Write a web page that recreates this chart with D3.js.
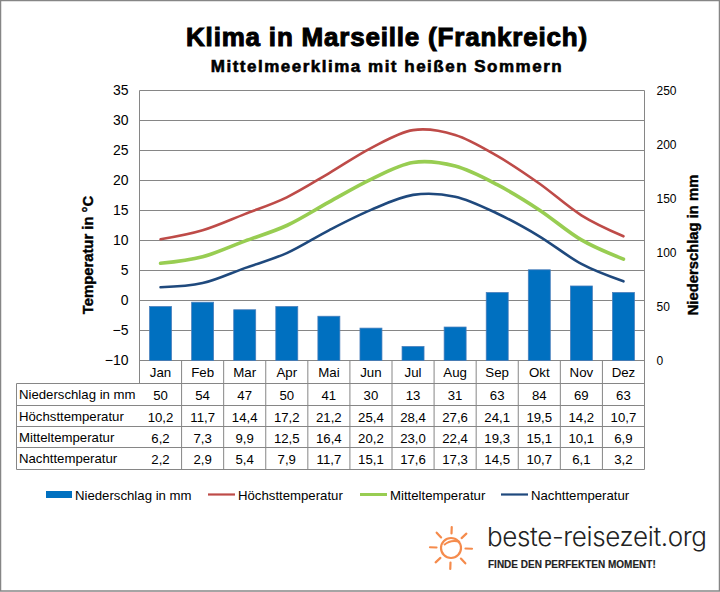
<!DOCTYPE html>
<html>
<head>
<meta charset="utf-8">
<script src="https://cdn.jsdelivr.net/npm/d3@7"></script>
<style>
  html, body { margin: 0; padding: 0; background: #fff; }
  svg { display: block; font-family: "Liberation Sans", Arial, sans-serif; }
</style>
</head>
<body>
<svg id="chart" width="720" height="592"></svg>
<script>
const months = ['Jan', 'Feb', 'Mar', 'Apr', 'Mai', 'Jun', 'Jul', 'Aug', 'Sep', 'Okt', 'Nov', 'Dez'];
const rain = [50, 54, 47, 50, 41, 30, 13, 31, 63, 84, 69, 63];
const high = [10.2, 11.7, 14.4, 17.2, 21.2, 25.4, 28.4, 27.6, 24.1, 19.5, 14.2, 10.7];
const mean = [6.2, 7.3, 9.9, 12.5, 16.4, 20.2, 23.0, 22.4, 19.3, 15.1, 10.1, 6.9];
const low = [2.2, 2.9, 5.4, 7.9, 11.7, 15.1, 17.6, 17.3, 14.5, 10.7, 6.1, 3.2];
const tempTicks = [-10, -5, 0, 5, 10, 15, 20, 25, 30, 35];
const rainTicks = [0, 50, 100, 150, 200, 250];

const GREY = '#868686';
const svg = d3.select('#chart');

const x = d3.scaleBand().domain(months).range([139.5, 644.5]);
const yTemp = d3.scaleLinear().domain([-10, 35]).range([360.5, 90.5]);
const yRain = d3.scaleLinear().domain([0, 250]).range([360.5, 90.5]);

// outer frame
svg.append('rect')
  .attr('x', 0.5).attr('y', 0.5).attr('width', 719).attr('height', 590.5)
  .attr('fill', '#fff').attr('stroke', GREY).attr('stroke-width', 1.5);

// titles
svg.append('text')
  .attr('x', 387).attr('y', 45.5).attr('text-anchor', 'middle')
  .attr('font-size', 26).attr('font-weight', 'bold')
  .attr('stroke', '#000').attr('stroke-width', 1)
  .attr('letter-spacing', 0.8)
  .text('Klima in Marseille (Frankreich)');
svg.append('text')
  .attr('x', 387).attr('y', 72).attr('text-anchor', 'middle')
  .attr('font-size', 17).attr('font-weight', 'bold')
  .attr('stroke', '#000').attr('stroke-width', 0.6)
  .attr('letter-spacing', 1.5)
  .text('Mittelmeerklima mit heißen Sommern');

// plot border and gridlines
svg.append('g').selectAll('line').data(tempTicks).join('line')
  .attr('x1', 139.5).attr('x2', 644.5)
  .attr('y1', d => yTemp(d)).attr('y2', d => yTemp(d))
  .attr('stroke', GREY);
svg.append('line').attr('x1', 139.5).attr('x2', 139.5).attr('y1', 90.5).attr('y2', 383.5).attr('stroke', GREY);
svg.append('line').attr('x1', 644.5).attr('x2', 644.5).attr('y1', 90.5).attr('y2', 469.5).attr('stroke', GREY);

// axes
const leftAxis = svg.append('g')
  .attr('transform', 'translate(139.5,0)')
  .call(d3.axisLeft(yTemp).tickValues(tempTicks).tickSize(0).tickPadding(11).tickFormat(d3.format('d')));
leftAxis.select('.domain').remove();
leftAxis.selectAll('text').attr('font-size', 14).attr('font-family', 'Liberation Sans').attr('fill', '#000');

const rightAxis = svg.append('g')
  .attr('transform', 'translate(644.5,0)')
  .call(d3.axisRight(yRain).tickValues(rainTicks).tickSize(0).tickPadding(12).tickFormat(d3.format('d')));
rightAxis.select('.domain').remove();
rightAxis.selectAll('text').attr('font-size', 12).attr('font-family', 'Liberation Sans').attr('fill', '#000');

svg.append('text')
  .attr('transform', 'translate(93,255) rotate(-90)').attr('text-anchor', 'middle')
  .attr('font-size', 14.8).attr('font-weight', 'bold').attr('stroke', '#000').attr('stroke-width', 0.4)
  .text('Temperatur in °C');
svg.append('text')
  .attr('transform', 'translate(698,245) rotate(-90)').attr('text-anchor', 'middle')
  .attr('font-size', 14.8).attr('font-weight', 'bold').attr('stroke', '#000').attr('stroke-width', 0.4)
  .text('Niederschlag in mm');

// bars
svg.append('g').selectAll('rect').data(rain).join('rect')
  .attr('x', (d, i) => x(months[i]) + x.bandwidth() / 2 - 11)
  .attr('width', 22)
  .attr('y', d => yRain(d))
  .attr('height', d => yRain(0) - yRain(d))
  .attr('fill', '#0070C0')
  .attr('stroke', '#4A7EBB')
  .attr('stroke-width', 0.75);

// smoothed temperature lines
const lineTemp = d3.line()
  .x((d, i) => x(months[i]) + x.bandwidth() / 2)
  .y(d => yTemp(d))
  .curve(d3.curveCatmullRom.alpha(0));

const series = [
  { name: 'Höchsttemperatur', values: high, color: '#BE4B48', width: 2.6, lx: 208 },
  { name: 'Mitteltemperatur', values: mean, color: '#98CD52', width: 3.6, lx: 360 },
  { name: 'Nachttemperatur', values: low, color: '#1F497D', width: 2.6, lx: 501 }
];
series.forEach(s => {
  svg.append('path')
    .attr('d', lineTemp(s.values))
    .attr('fill', 'none')
    .attr('stroke', s.color)
    .attr('stroke-width', s.width)
    .attr('stroke-linecap', 'round');
});

// data table
const rowLabels = ['Niederschlag in mm', 'Höchsttemperatur', 'Mitteltemperatur', 'Nachttemperatur'];
const rowValues = [rain, high, mean, low];
const rowEdges = [383.5, 405.5, 426.5, 447.5, 469.5];
const fmt = v => String(v).replace('.', ',');
const fmt1 = v => v.toFixed(1).replace('.', ',');

const table = svg.append('g');
rowEdges.forEach(e => {
  table.append('line').attr('x1', 16.5).attr('x2', 644.5).attr('y1', e).attr('y2', e).attr('stroke', GREY);
});
table.append('line').attr('x1', 16.5).attr('x2', 16.5).attr('y1', 383.5).attr('y2', 469.5).attr('stroke', GREY);
months.forEach((m, i) => {
  if (i === 0) return;
  table.append('line')
    .attr('x1', x(m)).attr('x2', x(m))
    .attr('y1', 360.5).attr('y2', 469.5)
    .attr('stroke', GREY);
});
table.append('g').selectAll('text').data(months).join('text')
  .attr('x', d => x(d) + x.bandwidth() / 2)
  .attr('y', 377)
  .attr('text-anchor', 'middle')
  .attr('font-size', 13.3)
  .text(d => d);

rowLabels.forEach((label, r) => {
  table.append('text')
    .attr('x', 19).attr('y', rowEdges[r] + 15)
    .attr('font-size', 13.2)
    .text(label);
  months.forEach((m, i) => {
    table.append('text')
      .attr('x', x(m) + x.bandwidth() / 2)
      .attr('y', rowEdges[r] + 16)
      .attr('text-anchor', 'middle')
      .attr('font-size', 13.2)
      .text(r === 0 ? fmt(rowValues[r][i]) : fmt1(rowValues[r][i]));
  });
});

// legend
const legend = svg.append('g');
legend.append('rect').attr('x', 46).attr('y', 491).attr('width', 26).attr('height', 7).attr('fill', '#0070C0');
legend.append('text').attr('x', 75).attr('y', 500).attr('font-size', 13.2).text(rowLabels[0]);
series.forEach(s => {
  legend.append('line')
    .attr('x1', s.lx).attr('x2', s.lx + 27)
    .attr('y1', 494.5).attr('y2', 494.5)
    .attr('stroke', s.color).attr('stroke-width', s.width === 3.6 ? 3 : 2.2);
  legend.append('text').attr('x', s.lx + 30).attr('y', 500).attr('font-size', 13.2).text(s.name);
});

// logo
const logo = svg.append('g').attr('transform', 'translate(451,548)');
const SUN = '#F58B4C';
logo.append('circle').attr('r', 10).attr('fill', 'none').attr('stroke', SUN).attr('stroke-width', 2.2);
logo.append('path').attr('d', 'M-7,-3 Q0,-9 9,-6').attr('fill', 'none').attr('stroke', SUN).attr('stroke-width', 2);
d3.range(8).forEach(k => {
  const a = (k * 45 - 90 + 2) * Math.PI / 180;
  logo.append('line')
    .attr('x1', Math.cos(a) * 14.5).attr('y1', Math.sin(a) * 14.5)
    .attr('x2', Math.cos(a) * 21).attr('y2', Math.sin(a) * 21)
    .attr('stroke', SUN).attr('stroke-width', 2.2).attr('stroke-linecap', 'round');
});
svg.append('text')
  .attr('x', 487).attr('y', 546)
  .attr('font-family', 'Inter').attr('font-size', 26).attr('font-weight', 300)
  .attr('fill', '#222')
  .attr('textLength', 220)
  .text('beste-reisezeit.org');
svg.append('text')
  .attr('x', 488).attr('y', 568)
  .attr('font-size', 10).attr('font-weight', 'bold')
  .attr('fill', '#222').attr('stroke', '#222').attr('stroke-width', 0.15)
  .text('FINDE DEN PERFEKTEN MOMENT!');
</script>
</body>
</html>
